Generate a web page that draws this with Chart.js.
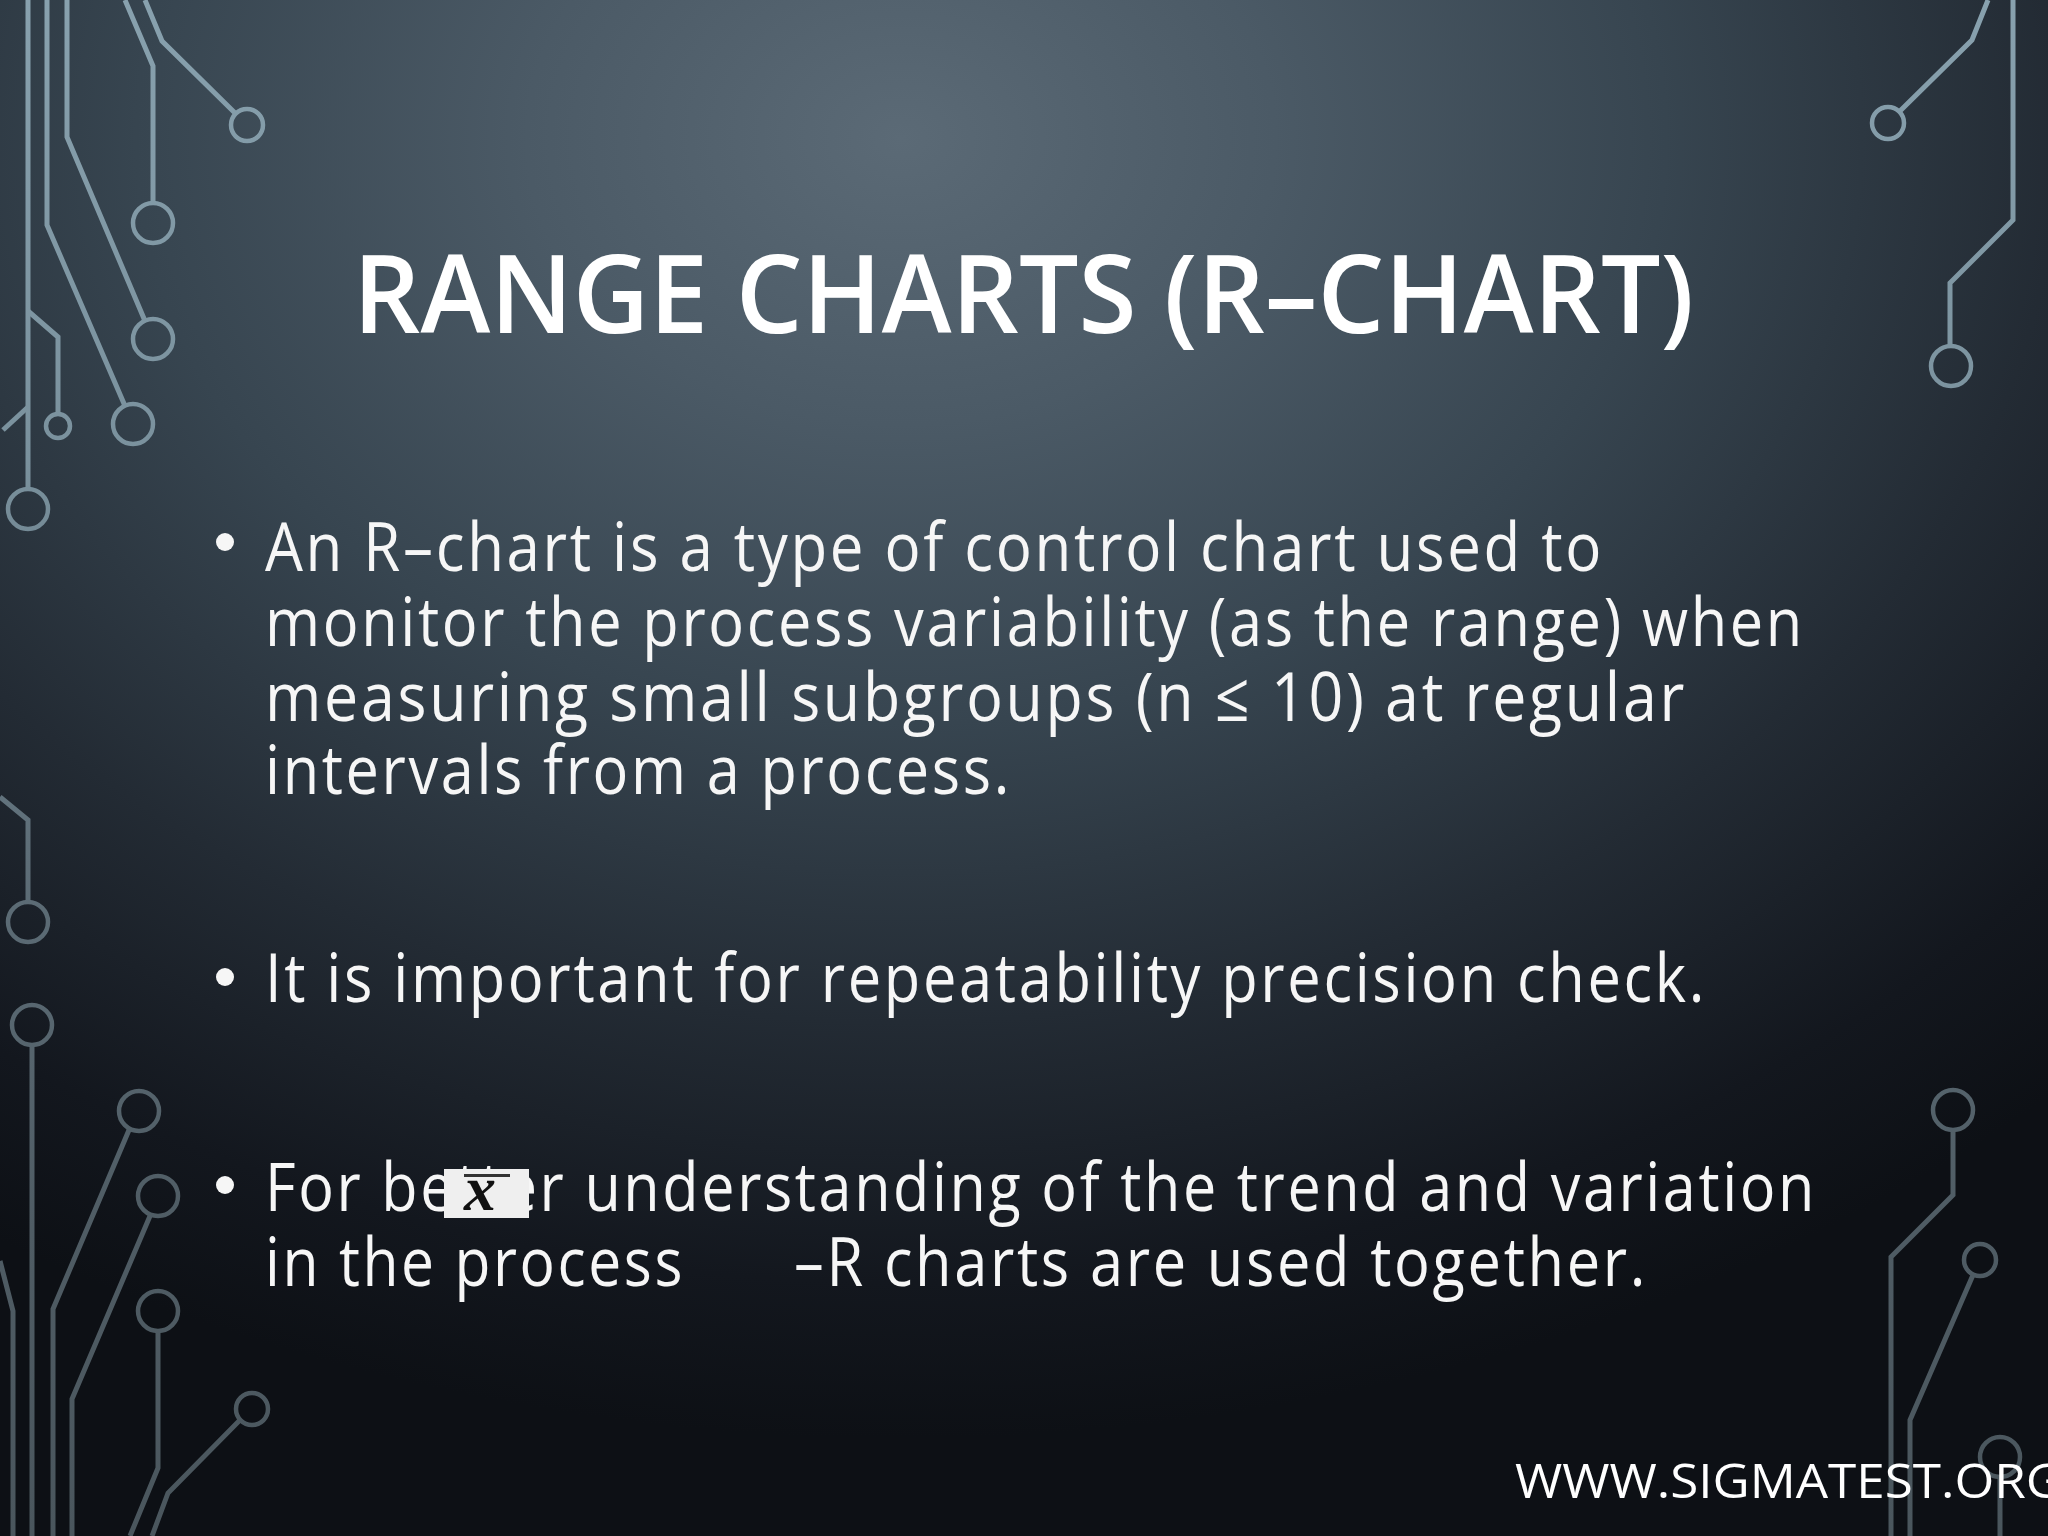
<!DOCTYPE html>
<html>
<head>
<meta charset="utf-8">
<script src="https://cdn.jsdelivr.net/npm/chart.js@4.4.0/dist/chart.umd.min.js"></script>
<style>
  html, body { margin: 0; padding: 0; }
  body {
    width: 2048px; height: 1536px; overflow: hidden; position: relative;
    background: radial-gradient(ellipse 1700px 1300px at 44% 9%,
      #5b6a76 0%, #4b5a66 22%, #374550 45%, #232b34 68%, #13171e 88%, #0d1015 100%);
    font-family: "Open Sans", "Noto Sans", sans-serif;
    color: #fff;
  }
  #circuit { position: absolute; left: 0; top: 0; z-index: 0; }
  .t { position: absolute; white-space: pre; line-height: 1; transform-origin: 0 0; z-index: 2; }
  .title { font-size: 109px; font-weight: 600; }
  .body { font-size: 68px; color: #f6f6f6; letter-spacing: 3px; }
  .dot { position: absolute; width: 18px; height: 18px; border-radius: 50%; background: #f6f6f6; z-index: 2; }
  .xbar {
    position: absolute; left: 444px; top: 1169px; width: 85px; height: 49px;
    background: #efefef; z-index: 3; overflow: hidden;
  }
  .xbar span {
    position: absolute; left: 20px; top: -12px;
    font-family: "Liberation Serif", "DejaVu Serif", serif; font-style: italic; font-weight: bold;
    font-size: 64px; color: #111; line-height: 1;
  }
  .xbar i { position: absolute; left: 20px; top: 5px; width: 46px; height: 3px; background: #333; }
  .foot { font-size: 48px; }
</style>
</head>
<body>
<canvas id="circuit" width="2048" height="1536"></canvas>

<div class="t title" data-w="1341" style="left:353px; top:236px;">RANGE CHARTS (R–CHART)</div>

<div class="dot" style="left:216px; top:533px;"></div>
<div class="t body" data-w="1339" style="left:265px; top:511px;">An R–chart is a type of control chart used to</div>
<div class="t body" data-w="1540" style="left:265px; top:586px;">monitor the process variability (as the range) when</div>
<div class="t body" data-w="1422" style="left:265px; top:661px;">measuring small subgroups (n ≤ 10) at regular</div>
<div class="t body" data-w="747" style="left:265px; top:734px;">intervals from a process.</div>

<div class="dot" style="left:216px; top:968px;"></div>
<div class="t body" data-w="1442" style="left:265px; top:942px;">It is important for repeatability precision check.</div>

<div class="dot" style="left:216px; top:1176px;"></div>
<div class="t body" data-w="1552" style="left:265px; top:1151px;">For better understanding of the trend and variation</div>
<div class="t body" data-w="420" style="left:265px; top:1226px;">in the process</div>
<div class="t body" data-w="854" style="left:794px; top:1226px;">–R charts are used together.</div>
<div class="xbar"><i></i><span>x</span></div>

<div class="t foot" data-w="548" style="left:1515px; top:1456px;">WWW.SIGMATEST.ORG</div>

<script>
// circuit traces, slide pixel coordinates [x, y]
const traceA = [[28, 0], [28, 488]];
const traceABranch = [[28, 311], [58, 337], [58, 414]];
const traceAStub = [[28, 407], [3, 430]];
const traceB = [[47, 0], [47, 225], [125, 406]];
const traceC = [[67, 0], [67, 137], [145, 321]];
const traceD = [[125, 0], [153, 66], [153, 203]];
const traceE = [[145, 0], [162, 41], [236, 114]];
const traceF = [[1988, 0], [1972, 40], [1899, 112]];
const traceG = [[2013, 0], [2013, 220], [1950, 283], [1950, 346]];
const traceH = [[0, 797], [28, 820], [28, 901]];
const traceI = [[32, 1046], [32, 1536]];
const traceJ = [[129, 1130], [53, 1309], [53, 1536]];
const traceK = [[150, 1216], [72, 1399], [72, 1536]];
const traceL = [[158, 1332], [158, 1468], [130, 1536]];
const traceM = [[240, 1420], [168, 1493], [152, 1536]];
const traceN = [[0, 1261], [13, 1311], [13, 1536]];
const traceP = [[1953, 1131], [1953, 1195], [1891, 1257], [1891, 1536]];
const traceQ = [[1973, 1275], [1910, 1420], [1910, 1536]];
const traceR = [[2000, 1478], [2000, 1536]];

// pad circles at the trace ends
const padX = [28, 58, 133, 153, 153, 247, 1888, 1951, 28, 32, 139, 158, 158, 252, 1953, 1980, 2000];
const padY = [509, 426, 424, 339, 223, 125, 123, 366, 922, 1025, 1111, 1196, 1311, 1409, 1110, 1260, 1457];
const padR = [20, 12, 20, 20, 20, 16, 16, 20, 20, 20, 20, 20, 20, 16, 20, 16, 20];

const traces = [traceA, traceABranch, traceAStub, traceB, traceC, traceD, traceE, traceF, traceG,
  traceH, traceI, traceJ, traceK, traceL, traceM, traceN, traceP, traceQ, traceR];

let wireGradient = null;
function wireColor(context) {
  const chart = context.chart;
  const area = chart.chartArea;
  if (!area) return '#6d828e';
  if (!wireGradient) {
    wireGradient = chart.ctx.createLinearGradient(0, area.top, 0, area.bottom);
    wireGradient.addColorStop(0, '#88a1ae');
    wireGradient.addColorStop(0.3, '#7a919d');
    wireGradient.addColorStop(0.55, '#5e6e78');
    wireGradient.addColorStop(0.8, '#4f5c64');
    wireGradient.addColorStop(1, '#4a565d');
  }
  return wireGradient;
}

const datasets = traces.map((t) => ({
  data: t.map((p) => ({ x: p[0], y: p[1] })),
  showLine: true,
  borderColor: wireColor,
  borderWidth: 5,
  pointRadius: 0,
  borderJoinStyle: 'miter',
}));

datasets.push({
  data: padX.map((x, i) => ({ x: x, y: padY[i] })),
  showLine: false,
  pointStyle: 'circle',
  pointRadius: padR,
  pointBorderWidth: 4.5,
  pointBorderColor: wireColor,
  pointBackgroundColor: 'rgba(0,0,0,0)',
});

new Chart(document.getElementById('circuit'), {
  type: 'scatter',
  data: { datasets: datasets },
  options: {
    responsive: false,
    animation: false,
    devicePixelRatio: 1,
    layout: { padding: 0, autoPadding: false },
    plugins: { legend: { display: false }, tooltip: { enabled: false }, title: { display: false } },
    events: [],
    scales: {
      x: { type: 'linear', min: 0, max: 2048, display: false },
      y: { type: 'linear', min: 0, max: 1536, reverse: true, display: false },
    },
  },
});

// squeeze each text line to the width it has on the slide
function fitLines() {
  document.querySelectorAll('.t[data-w]').forEach((el) => {
    el.style.transform = 'none';
    const natural = el.getBoundingClientRect().width;
    const target = parseFloat(el.dataset.w);
    if (natural > 0) el.style.transform = 'scaleX(' + (target / natural) + ')';
  });
}
if (document.fonts && document.fonts.ready) {
  document.fonts.ready.then(fitLines);
} else {
  fitLines();
}
</script>
</body>
</html>
